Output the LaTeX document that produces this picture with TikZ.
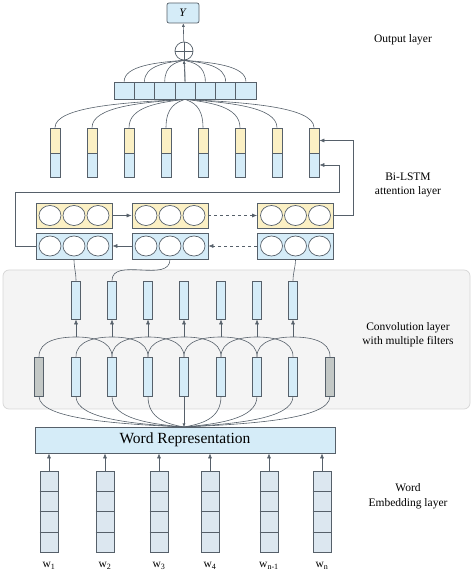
\documentclass[tikz,border=0pt]{standalone}
\usepackage{fontspec}
\setmainfont{Liberation Serif}
\usetikzlibrary{arrows.meta,positioning,calc}
\definecolor{lblue}{HTML}{D5ECF8}
\definecolor{lsteel}{HTML}{DCE7F0}
\definecolor{lyellow}{HTML}{FBF0C4}
\definecolor{lgray}{HTML}{C3C8C6}
\definecolor{edge}{HTML}{56606A}
\definecolor{panel}{HTML}{F4F4F4}
\definecolor{panelline}{HTML}{D6D6D6}

\begin{document}
\begin{tikzpicture}[x=1pt, y=1pt, line width=.7pt,
  every node/.style={font=\fontsize{11.5}{14.5}\selectfont},
  box/.style={draw=edge, fill=lblue, inner sep=0pt},
  bar/.style={box, minimum width=9.5pt, minimum height=38pt},
  wire/.style={draw=edge, line width=.6pt},
  tip/.style={-{Latex[length=5pt,width=4pt]}},
  smalltip/.style={-{Latex[length=3.5pt,width=3pt]}}]

  \useasboundingbox (0,0) rectangle (474,576);

  % output layer
  \node[box, rounded corners=2pt, minimum width=32pt, minimum height=20pt] (y) at (183,563) {\textit{Y}};
  \node[circle, draw=edge, minimum size=18pt, inner sep=0pt] (sum) at (184,525) {};
  \draw[edge] (sum.north) -- (sum.south) (sum.west) -- (sum.east);
  \draw[wire, smalltip] (sum) -- (y);

  \foreach \i [evaluate=\i as \x using 103.85+20.3*\i] in {1,...,7}
    \node[box, minimum width=20.3pt, minimum height=17pt] (o\i) at (\x,485.5) {};
  \foreach \i in {1,...,7}
    \draw[wire] (o\i.north) .. controls ($(o\i.north)!0.75!(o\i.north |- sum.south)$)
      and ($(sum.south)!0.45!(o\i.north |- sum.south)+(0,-2)$) .. (sum.south);
  \draw[wire, smalltip] (o4.north) -- (sum.south);

  % attention
  \foreach \i [evaluate=\i as \x using 18+37*\i] in {1,...,8} {
    \node[bar, fill=lyellow, minimum width=10pt, minimum height=25pt] (ay\i) at (\x,435.5) {};
    \node[bar, minimum width=10pt, minimum height=24pt] (ab\i) at (\x,411) {};
  }
  \foreach \i in {1,...,8}
    \draw[wire] (ay\i.north) .. controls ($(ay\i.north)!0.75!(ay\i.north |- o4.south)$)
      and ($(o4.south)!0.45!(ay\i.north |- o4.south)+(0,-3)$) .. (o4.south);

  % bi-lstm
  \foreach \n/\x in {1/74,2/170,3/295.5} {
    \node[box, fill=lyellow, minimum width=76pt, minimum height=25pt] (ly\n) at (\x,360.5) {};
    \node[box, minimum width=76pt, minimum height=26pt] (lb\n) at (\x,330) {};
    \foreach \d in {-24,0,24} {
      \draw[edge, fill=white] ([xshift=\d pt]ly\n.center) ellipse [x radius=11, y radius=10];
      \draw[edge, fill=white] ([xshift=\d pt]lb\n.center) ellipse [x radius=11, y radius=10];
    }
  }
  \draw[wire, tip] (ly1) -- (ly2);
  \draw[wire, tip, dashed] (ly2) -- (ly3);
  \draw[wire, tip, dashed] (lb3) -- (lb2);
  \draw[wire, tip] (lb2) -- (lb1);

  \coordinate (r1) at (353,435.5);
  \coordinate (r2) at (339,411);
  \coordinate (l1) at (15,384);
  \draw[wire, tip] (ly3.east) -| (r1) -- (ay8.east);
  \draw[wire, tip] (lb1.west) -| (l1) -| (r2) -- (ab8.east);

  % convolution
  \draw[panelline, fill=panel, rounded corners=6pt] (3,167) rectangle (470,306);
  \foreach \i/\x in {1/76,2/112,3/148,4/184,5/221,6/257,7/293} {
    \node[bar] (ct\i) at (\x,276) {};
    \coordinate (cp\i) at (\x,239);
    \draw[wire, tip] (cp\i) -- (ct\i.south);
  }
  \foreach \i/\x in {1/39,2/76,3/112,4/148,5/184,6/221,7/257,8/293,9/330}
    \node[bar, minimum height=39pt] (cb\i) at (\x,199.5) {};
  \node[bar, minimum height=39pt, fill=lgray] at (cb1) {};
  \node[bar, minimum height=39pt, fill=lgray] at (cb9) {};
  \foreach \i [evaluate=\i as \j using int(\i+2)] in {1,...,7}
    \draw[wire] (cb\i.north) to[out=90, in=180] (cp\i) to[out=0, in=90] (cb\j.north);

  \draw[wire] (lb1.south) to[out=-90, in=90] (ct1.north);
  \draw[wire] (lb2.south) to[out=-90, in=90] (ct2.north);
  \draw[wire] (lb3.south) to[out=-90, in=90] (ct7.north);

  % word representation
  \node[box, minimum width=300pt, minimum height=26pt, font=\fontsize{15.5}{17}\selectfont] (wr) at (185,136) {Word Representation};
  \coordinate (top) at (184,149);
  \foreach \i in {1,2,3,4,6,7,8,9}
    \draw[wire] (cb\i.south) .. controls ($(cb\i.south)!0.75!(cb\i.south |- top)$)
      and ($(top)!0.45!(cb\i.south |- top)+(0,3)$) .. (top);
  \draw[wire, smalltip] (cb5.south) -- (top);

  % embedding
  \foreach \n/\x/\s in {1/49/1,2/105/2,3/159/3,4/210/4,5/269/n-1,6/322/n} {
    \node[box, fill=lsteel, minimum width=18pt, minimum height=81pt] (e\n) at (\x,64.5) {};
    \foreach \k in {1,2,3}
      \draw[edge] ([yshift=\k*20.25pt]e\n.south west) -- ([yshift=\k*20.25pt]e\n.south east);
    \draw[wire, tip] (e\n.north) -- (e\n.north |- wr.south);
    \node (w\n) at (\x,10) {w\textsubscript{\s}};
  }

  % layer labels
  \node[align=center] (outlab) at (403,536) {Output layer};
  \node[align=center] (attlab) at (408,391) {Bi-LSTM\\attention layer};
  \node[align=center] (convlab) at (408,241.5) {Convolution layer\\with multiple filters};
  \node[align=center] (emblab) at (408,79.5) {Word\\Embedding layer};
\end{tikzpicture}
\end{document}
